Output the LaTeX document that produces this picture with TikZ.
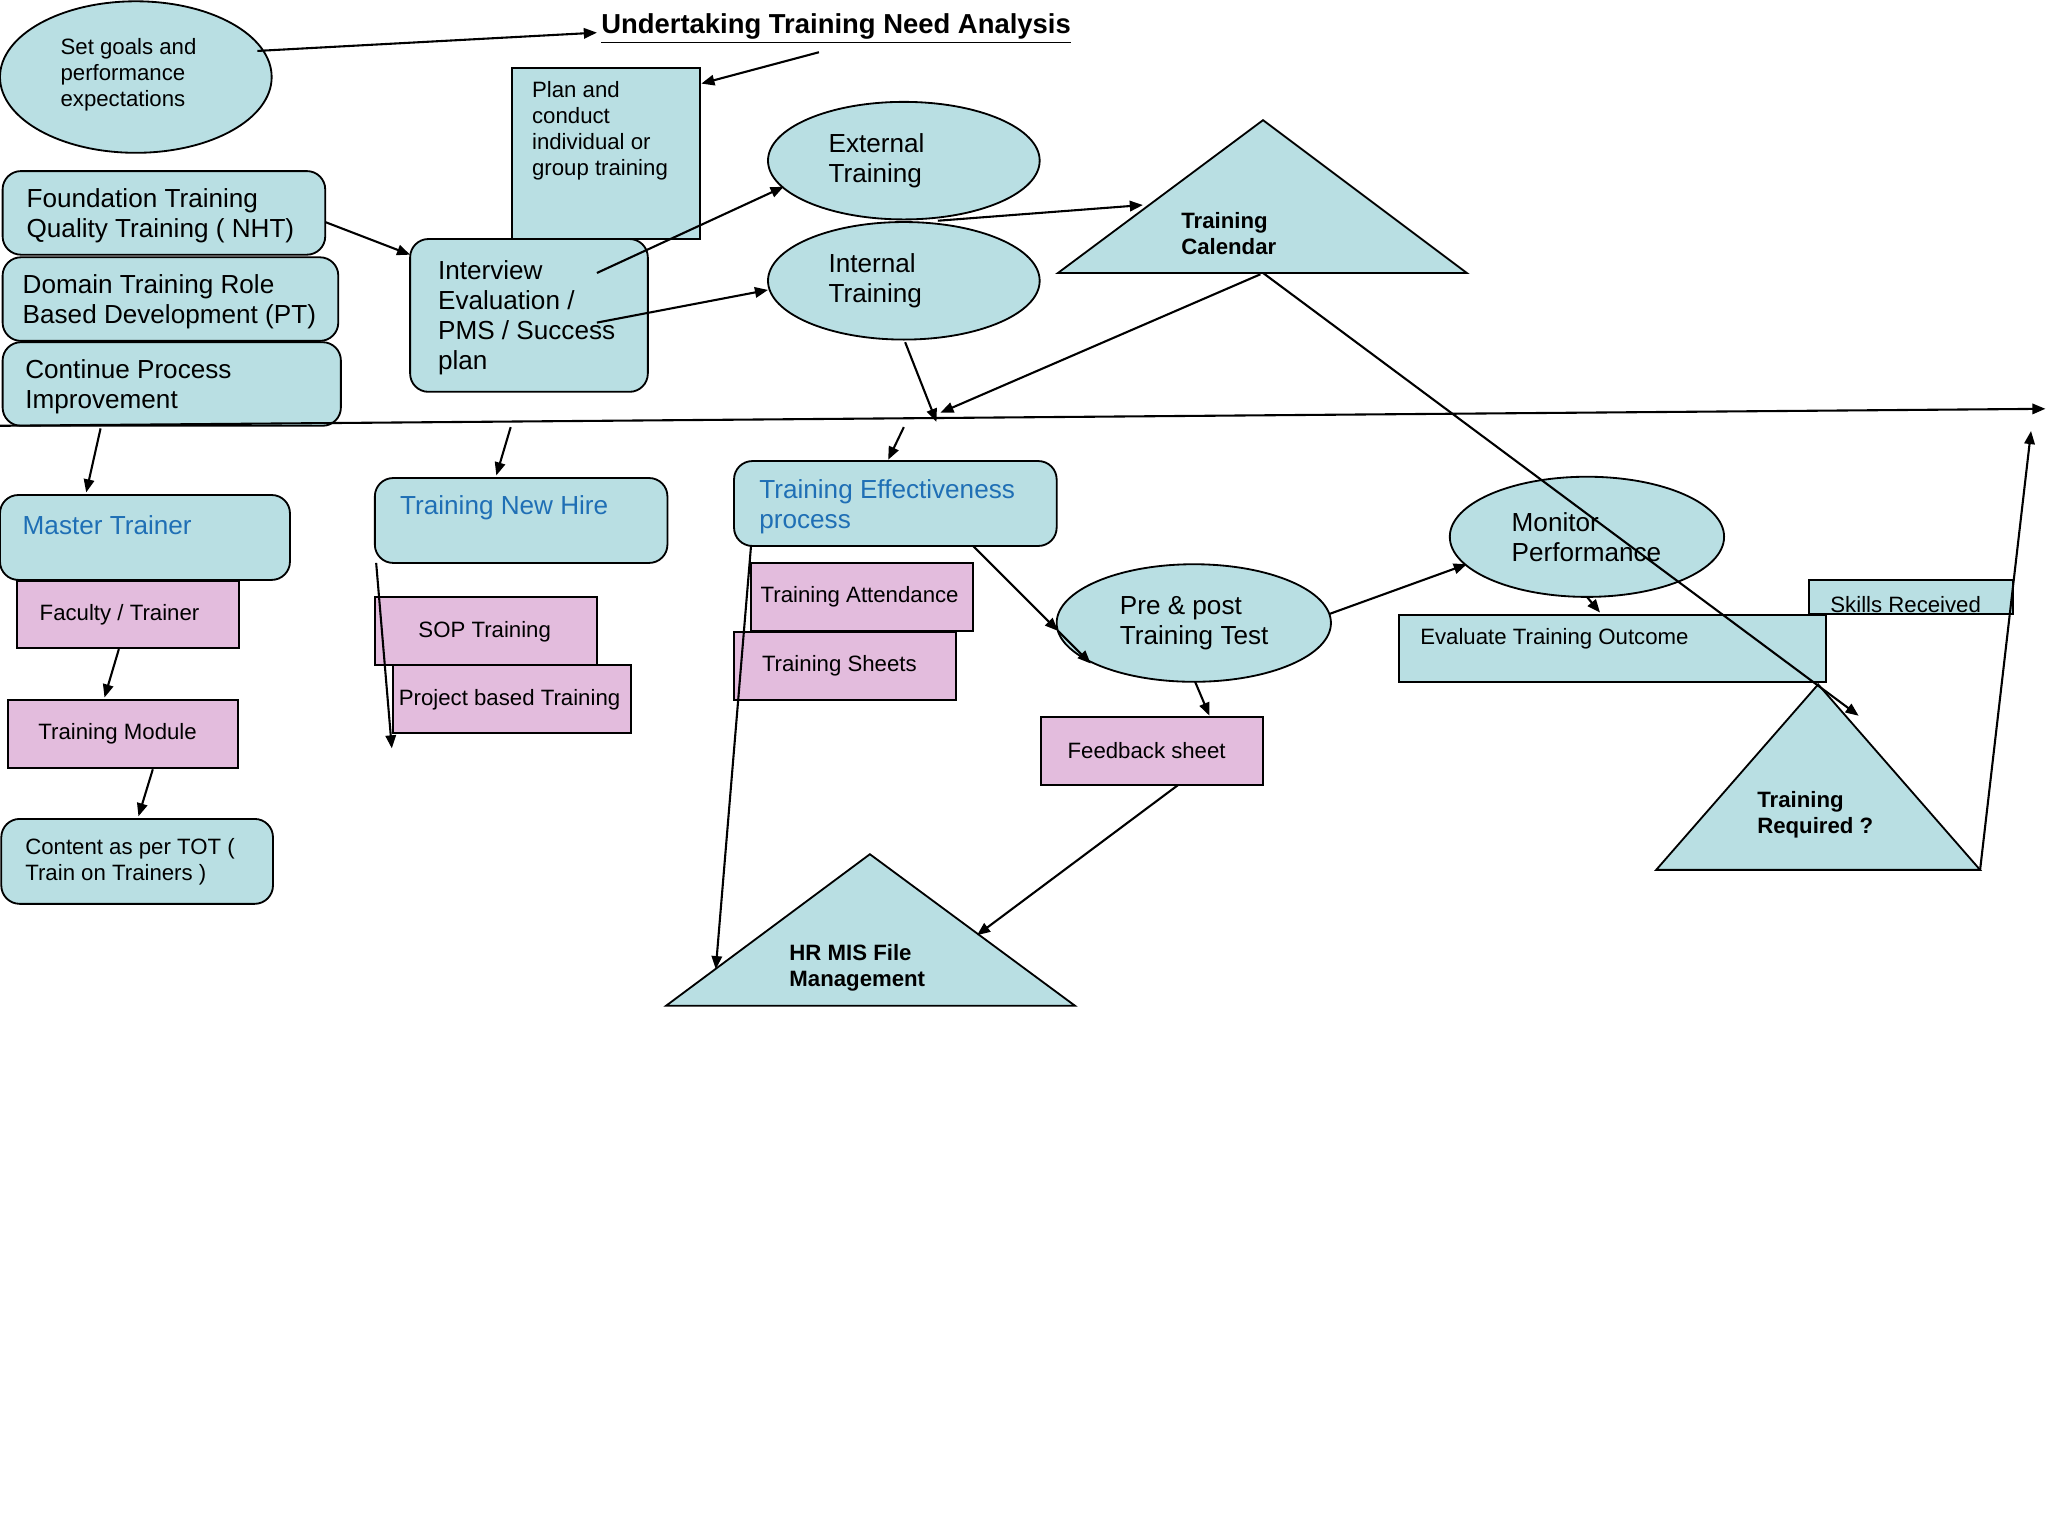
\documentclass[tikz,border=0pt]{standalone}
\usepackage{fontspec}
\setmainfont{Liberation Sans}
\usetikzlibrary{arrows.meta}
\definecolor{cy}{HTML}{B9DFE3}
\definecolor{pk}{HTML}{E3BCDD}
\definecolor{bt}{HTML}{1F6FB5}
\begin{document}
\begin{tikzpicture}[x=0.5pt,y=-0.5pt,
 bx/.style={draw=black,fill=cy,line width=0.7pt},
 rb/.style={bx,rounded corners=7pt},
 pb/.style={draw=black,fill=pk,line width=0.7pt},
 tx/.style={anchor=west,align=left,font=\fontsize{10}{11.5}\selectfont,inner sep=0pt},
 sx/.style={anchor=west,align=left,font=\fontsize{8.5}{10}\selectfont,inner sep=0pt},
 ar/.style={-{Triangle[length=5pt,width=4pt]},line width=0.8pt}]
\useasboundingbox (0,0) rectangle (1568,1176);
\fill[white] (0,0) rectangle (1568,1176);
% shapes
\draw[bx] (104,59) ellipse (104 and 58);
\node[sx] (goals) at (46,57) {Set goals and\\performance\\expectations};
\node[anchor=west,inner sep=0pt,font=\bfseries\fontsize{10.5}{12}\selectfont] (title) at (460,22) {\underline{Undertaking Training Need Analysis}};
\draw[bx] (392,52) rectangle (536,183);
\node[sx,anchor=north west] (plan) at (407,62) {Plan and\\conduct\\individual or\\group training};
\draw[bx] (692,123) ellipse (104 and 45);
\node[tx] (ext) at (634,123) {External\\Training};
\draw[bx] (692,215) ellipse (104 and 45);
\node[tx] (int) at (634,215) {Internal\\Training};
\draw[bx] (967,92) -- (1123,209) -- (810,209) -- cycle;
\node[sx,font=\bfseries\fontsize{8.5}{10}\selectfont] (cal) at (904,179) {Training\\Calendar};
\draw[rb] (2,131) rectangle (249,195);
\node[tx] (found) at (20,165) {Foundation Training\\Quality Training ( NHT)};
\draw[rb] (2,197) rectangle (259,261);
\node[tx] (dom) at (17,231) {Domain Training Role\\Based Development (PT)};
\draw[rb] (2,262) rectangle (261,326);
\node[tx] (cont) at (19,296) {Continue Process\\Improvement};
\draw[rb] (314,183) rectangle (496,300);
\node[tx] (inter) at (335,243) {Interview\\Evaluation /\\PMS / Success\\plan};
\draw[rb] (0,379) rectangle (222,444);
\node[tx,text=bt] (mt) at (17,402) {Master Trainer};
\draw[pb] (13,445) rectangle (183,496);
\node[sx] (fac) at (30,471) {Faculty / Trainer};
\draw[pb] (6,536) rectangle (182,588);
\node[sx] (mod) at (29,562) {Training Module};
\draw[rb] (1,627) rectangle (209,692);
\node[sx] (tot) at (19,660) {Content as per TOT (\\Train on Trainers )};
\draw[rb] (287,366) rectangle (511,431);
\node[tx,text=bt] (nh) at (306,389) {Training New Hire};
\draw[pb] (287,457) rectangle (457,509);
\node[sx] (sop) at (320,484) {SOP Training};
\draw[pb] (301,509) rectangle (483,561);
\node[sx] (proj) at (305,536) {Project based Training};
\draw[rb] (562,353) rectangle (809,418);
\node[tx,text=bt] (te) at (581,388) {Training Effectiveness\\process};
\draw[pb] (575,431) rectangle (745,483);
\node[sx] (att) at (582,457) {Training Attendance};
\draw[pb] (562,484) rectangle (732,536);
\node[sx] (sh) at (583,510) {Training Sheets};
\draw[bx] (914,477) ellipse (105 and 45);
\node[tx] (pre) at (857,477) {Pre \& post\\Training Test};
\draw[pb] (797,549) rectangle (967,601);
\node[sx] (fb) at (817,575) {Feedback sheet};
\draw[bx] (666,654) -- (823,770) -- (510,770) -- cycle;
\node[sx,font=\bfseries\fontsize{8.5}{10}\selectfont] (hr) at (604,741) {HR MIS File\\Management};
\draw[bx] (1215,411) ellipse (105 and 46);
\node[tx] (mon) at (1157,411) {Monitor\\Performance};
\draw[bx] (1385,444) rectangle (1541,470);
\node[sx] (sk) at (1401,463) {Skills Received};
\draw[bx] (1071,471) rectangle (1398,522);
\node[sx] (ev) at (1087,489) {Evaluate Training Outcome};
\draw[bx] (1392,524) -- (1516,666) -- (1268,666) -- cycle;
\node[sx,font=\bfseries\fontsize{8.5}{10}\selectfont] (req) at (1345,624) {Training\\Required ?};
% connector coordinates
\coordinate (a1) at (197,39); \coordinate (a2) at (457,25);
\coordinate (b1) at (627,40); \coordinate (b2) at (537,64);
\coordinate (c1) at (249,170); \coordinate (c2) at (314,195);
\coordinate (d1) at (457,209); \coordinate (d2) at (600,143);
\coordinate (e1) at (457,247); \coordinate (e2) at (588,222);
\coordinate (f1) at (718,169); \coordinate (f2) at (875,157);
\coordinate (g1) at (965,210); \coordinate (g2) at (720,316);
\coordinate (h1) at (693,262); \coordinate (h2) at (717,323);
\coordinate (i1) at (692,327); \coordinate (i2) at (680,352);
\coordinate (j1) at (0,326); \coordinate (j2) at (1566,313);
\coordinate (k1) at (77,328); \coordinate (k2) at (66,377);
\coordinate (l1) at (391,327); \coordinate (l2) at (380,364);
\coordinate (m1) at (91,497); \coordinate (m2) at (80,534);
\coordinate (n1) at (117,589); \coordinate (n2) at (106,625);
\coordinate (o1) at (288,431); \coordinate (o2) at (300,573);
\coordinate (p1) at (575,418); \coordinate (p2) at (548,742);
\coordinate (q1) at (745,418); \coordinate (q2) at (810,483); \coordinate (q3) at (835,508);
\coordinate (r1) at (915,522); \coordinate (r2) at (926,548);
\coordinate (s1) at (902,601); \coordinate (s2) at (748,716);
\coordinate (t1) at (1018,470); \coordinate (t2) at (1123,432);
\coordinate (u1) at (1215,457); \coordinate (u2) at (1225,469);
\coordinate (v1) at (967,209); \coordinate (v2) at (1423,548);
\coordinate (w1) at (1516,666); \coordinate (w2) at (1555,330);
\foreach \s/\e in {a1/a2,b1/b2,c1/c2,d1/d2,e1/e2,f1/f2,g1/g2,h1/h2,i1/i2,j1/j2,k1/k2,l1/l2,m1/m2,n1/n2,o1/o2,p1/p2,q2/q3,r1/r2,s1/s2,t1/t2,u1/u2,v1/v2,w1/w2}
  \draw[ar] (\s) -- (\e);
\draw[ar] (q1) -- (q2);
\end{tikzpicture}
\end{document}
